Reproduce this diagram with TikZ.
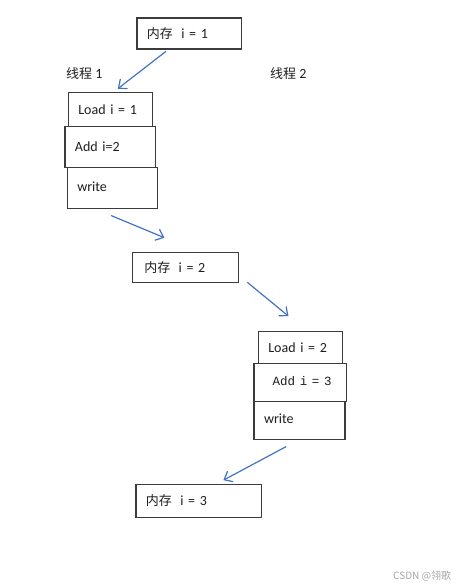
\documentclass[tikz,border=0pt]{standalone}
\usepackage{fontspec}
\setmainfont{Carlito}
\newfontfamily\cjk{Noto Sans CJK SC}
\newfontfamily\monofont{Liberation Mono}
\usepackage{tikz}
\usetikzlibrary{arrows.meta}

\definecolor{boxgray}{HTML}{3C3C3C}
\definecolor{arrowblue}{HTML}{4472C4}
\definecolor{inkgray}{HTML}{1E1E1E}

\begin{document}
\begin{tikzpicture}[x=1pt, y=-1pt,
    box/.style={draw=boxgray, line width=1.1pt, inner xsep=10pt, inner ysep=0pt,
        align=left, text=inkgray, font=\fontsize{14}{16}\selectfont},
    arr/.style={draw=arrowblue, line width=1.2pt, -{Straight Barb[length=7pt,width=12pt]}},
    thread/.style={anchor=west, inner sep=0pt, text=inkgray, font=\fontsize{14}{16}\selectfont}]
    \useasboundingbox (0,0) rectangle (474,588);

    % Memory i = 1
    \node[box, text width=84.7pt, minimum height=31pt] (mem1) at (189.3,33.5)
        {{\cjk\fontsize{13}{15}\selectfont 内存}\hspace{0.6em}i = 1};

    % Threads
    \node[thread] (th1) at (66,74) {{\cjk\fontsize{13}{15}\selectfont 线程} 1};
    \node[thread] (th2) at (270,74) {{\cjk\fontsize{13}{15}\selectfont 线程} 2};

    % Thread 1 steps
    \node[box, text width=64pt, minimum height=34pt] (load1) at (110.3,109.7) {Load i = 1};
    \node[box, text width=70.7pt, minimum height=40.6pt] (add1) at (110.3,147) {\raisebox{1.5pt}{Add i=2}};
    \node[box, text width=70.4pt, minimum height=40.6pt] (write1) at (112.5,188) {\raisebox{3.5pt}{write}};

    % Memory i = 2
    \node[box, text width=86pt, minimum height=30.4pt] (mem2) at (185.3,267.5)
        {\hspace{2pt}{\cjk\fontsize{13}{15}\selectfont 内存}\hspace{0.6em}i = 2};

    % Thread 2 steps
    \node[box, text width=64pt, minimum height=31.6pt] (load2) at (300.3,347.5) {Load i = 2};
    \node[box, text width=72.7pt, minimum height=38.4pt] (add2) at (300.3,382.5)
        {\hspace{8.7pt}\raisebox{3pt}{\monofont\fontsize{12.5}{14}\selectfont Add i = 3}};
    \node[box, text width=71pt, minimum height=38.3pt] (write2) at (299.5,420.2) {\raisebox{3.5pt}{write}};

    % Memory i = 3
    \node[box, text width=105.7pt, minimum height=33.4pt] (mem3) at (198.8,501)
        {{\cjk\fontsize{13}{15}\selectfont 内存}\hspace{0.6em}i = 3};

    % Arrows
    \draw[arr] ([shift={(29.7,1.7)}]mem1.south west) -- ([shift={(50,-3.4)}]load1.north west);
    \draw[arr] ([shift={(44.4,6.7)}]write1.south west) -- ([shift={(32.7,-14)}]mem2.north west);
    \draw[arr] ([shift={(8.4,-1)}]mem2.south east) -- ([shift={(30.7,-15)}]load2.north west);
    \draw[arr] ([shift={(32.7,6.7)}]write2.south west) -- ([shift={(88,-3.6)}]mem3.north west);

    % Watermark
    \node[anchor=west, inner sep=0pt, text=black!35, font=\cjk\fontsize{10}{12}\selectfont] (mark) at (393,576) {CSDN @翎歌};
\end{tikzpicture}
\end{document}
